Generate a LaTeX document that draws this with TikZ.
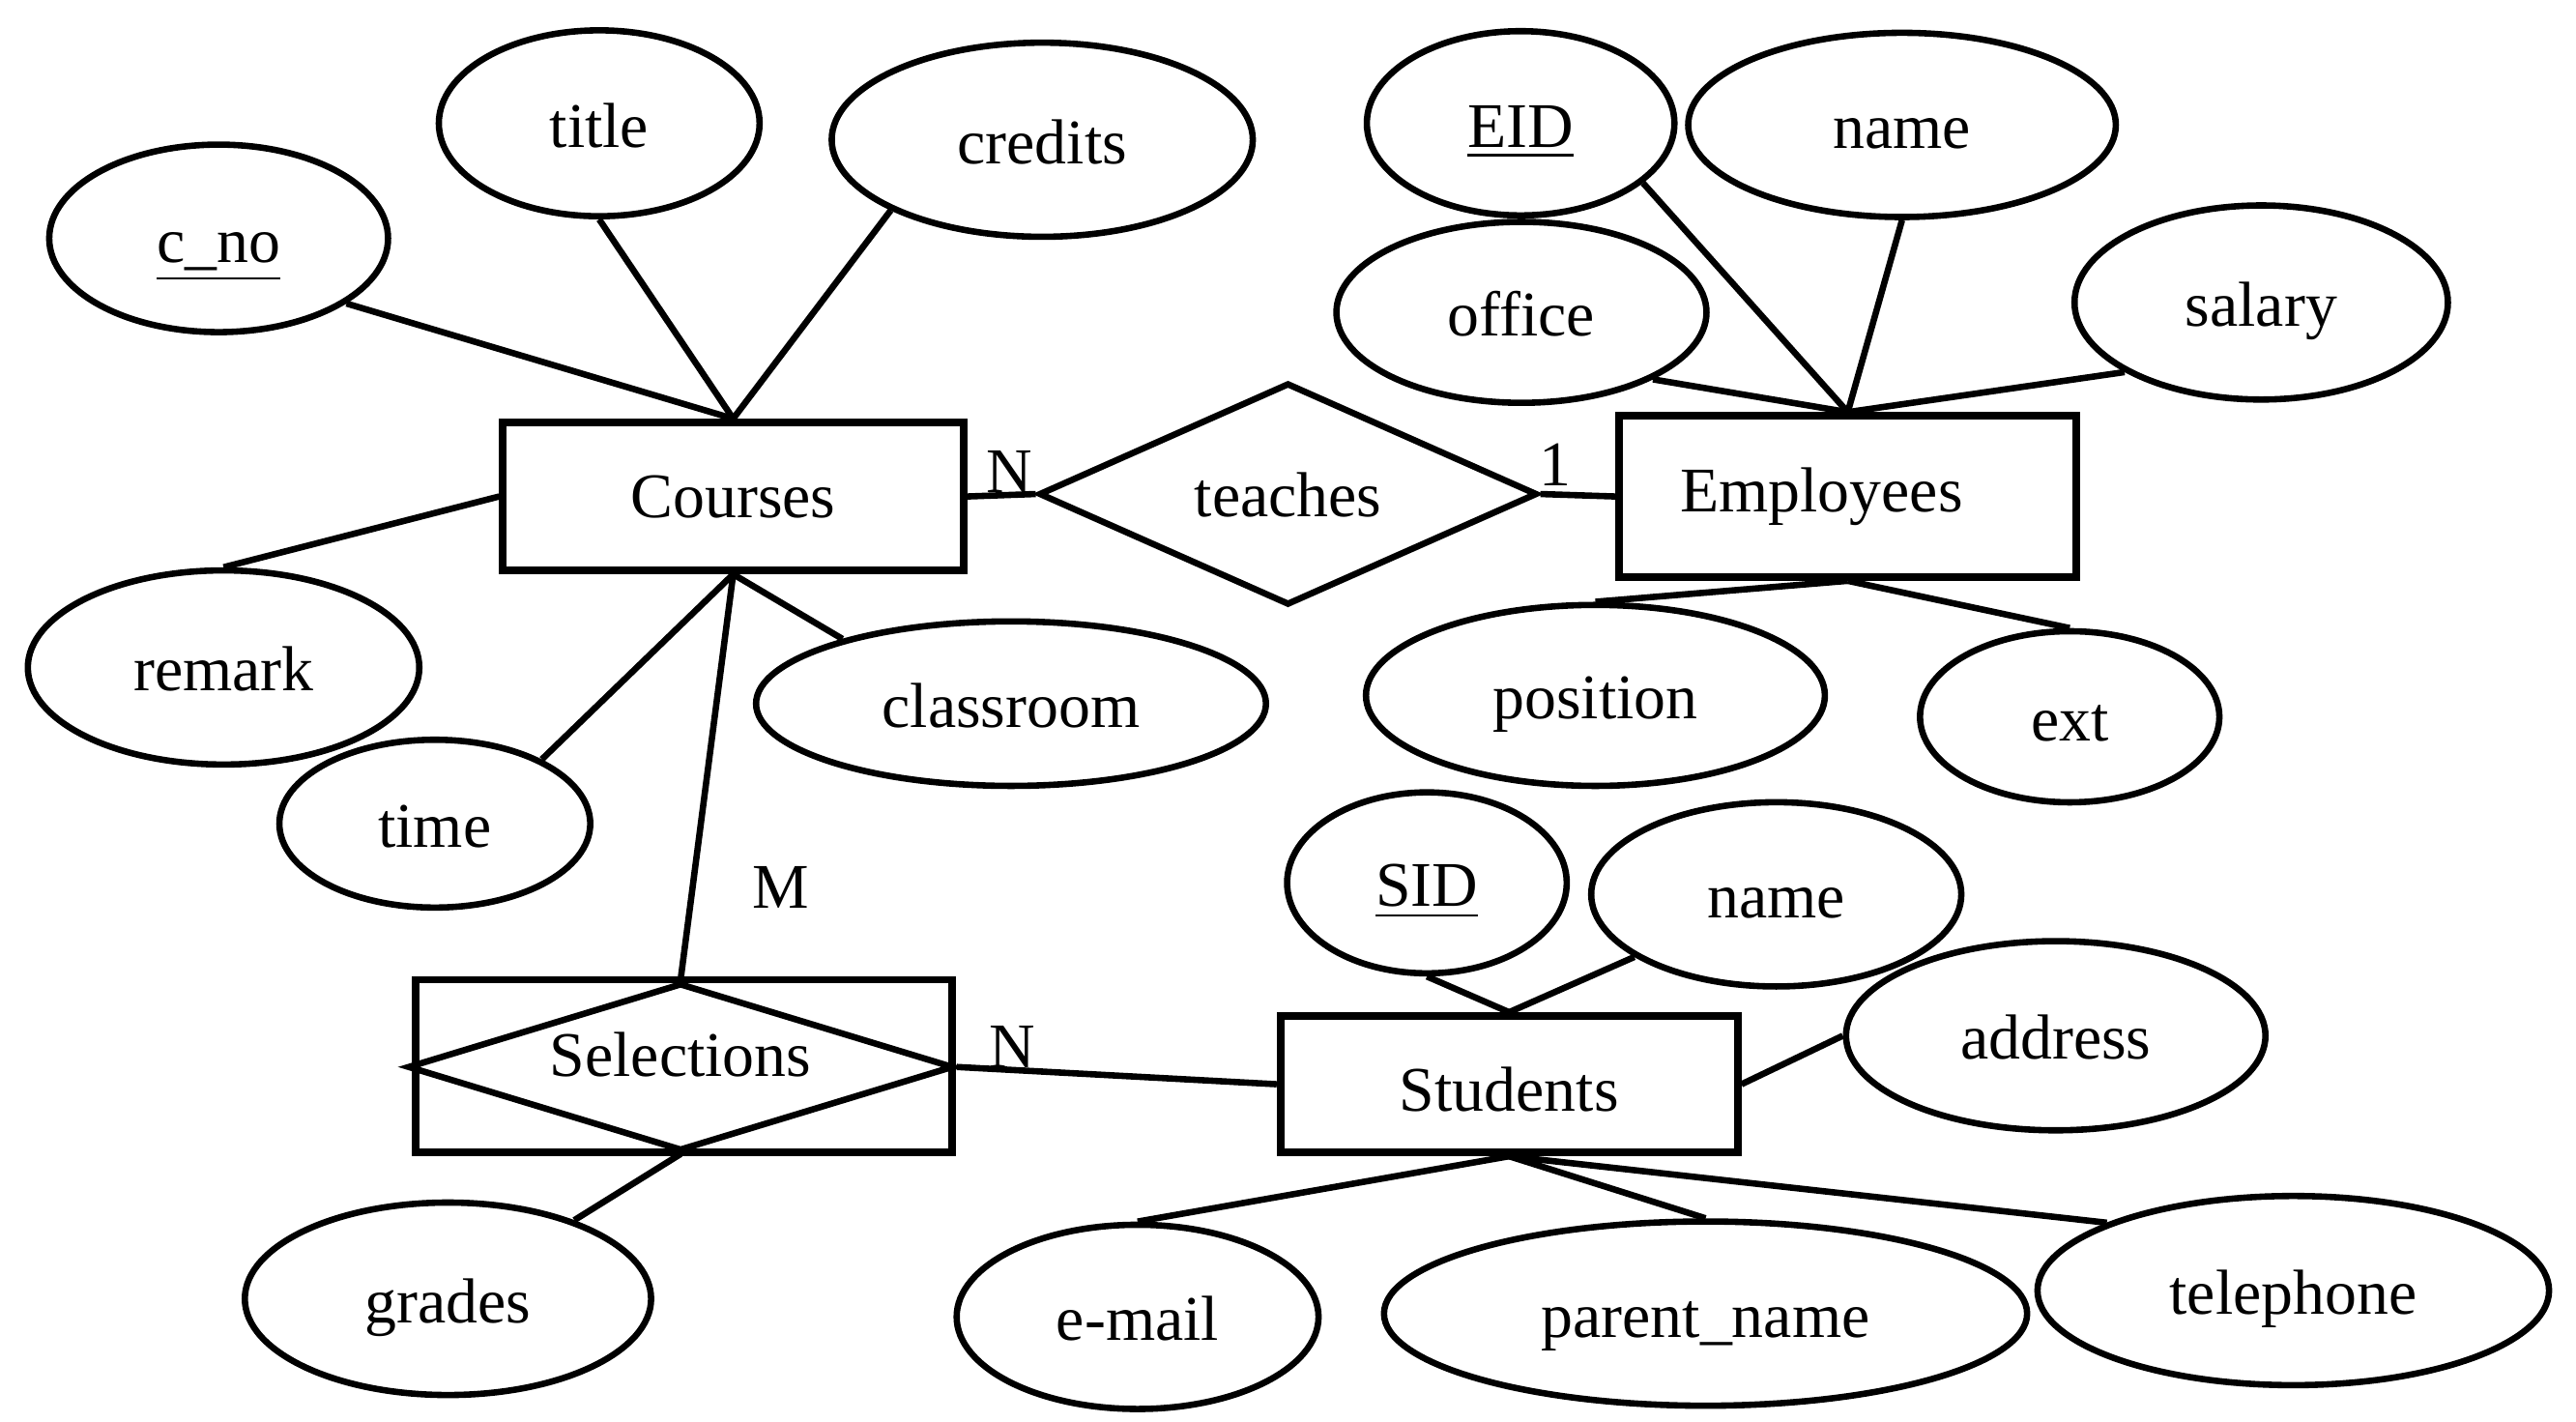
\documentclass[tikz,border=0pt]{standalone}
\usepackage{fontspec}
\setmainfont{Liberation Serif}
\usetikzlibrary{shapes.geometric}
\begin{document}
\begin{tikzpicture}[x=0.01cm,y=-0.01cm,line width=1.1pt,
  attr/.style={ellipse,draw,inner sep=0pt,text height=1em,text depth=0.18em},
  ent/.style={rectangle,draw,line width=1.3pt,inner sep=0pt},
  rel/.style={diamond,draw,inner sep=0pt},
  card/.style={inner sep=0pt},
  font=\fontsize{11}{13}\selectfont]
\useasboundingbox (0,0) rectangle (1567,864.4);
% entities and relationships
\node[ent,minimum width=2.80cm,minimum height=0.90cm] (courses) at (446,302) {Courses};
\node[rel,aspect=2.2,minimum width=3.03cm,minimum height=1.35cm,text height=0.9em,text depth=0.1em] (teaches) at (783.5,300.5) {teaches};
\node[ent,minimum width=2.78cm,minimum height=0.98cm] (emp) at (1124,302) {\hspace*{-0.32cm}Employees};
\node[ent,minimum width=3.26cm,minimum height=1.05cm] (selr) at (416,648.5) {};
\node[rel,aspect=3.25,minimum width=3.32cm,minimum height=1.02cm,text height=0.5em,text depth=0.19em] (seld) at (414,649) {Selections};
\node[ent,minimum width=2.78cm,minimum height=0.83cm,text height=1.1em,text depth=0.17em] (stud) at (918,659.5) {Students};
% attributes
\node[attr,minimum width=2.06cm,minimum height=1.14cm] (cno) at (133,145) {\underline{c\_no}};
\node[attr,minimum width=1.95cm,minimum height=1.13cm] (title) at (364.5,75) {title};
\node[attr,minimum width=2.56cm,minimum height=1.18cm] (credits) at (634,85) {credits};
\node[attr,minimum width=2.38cm,minimum height=1.18cm] (remark) at (136,406) {remark};
\node[attr,minimum width=1.89cm,minimum height=1.02cm] (time) at (264.5,501) {time};
\node[attr,minimum width=3.10cm,minimum height=1.00cm] (classroom) at (615,428) {classroom};
\node[attr,minimum width=1.87cm,minimum height=1.12cm] (eid) at (925,75) {\underline{EID}};
\node[attr,minimum width=2.60cm,minimum height=1.12cm] (ename) at (1157,76) {name};
\node[attr,minimum width=2.25cm,minimum height=1.10cm] (office) at (925.5,190) {office};
\node[attr,minimum width=2.27cm,minimum height=1.18cm] (salary) at (1375.5,184) {salary};
\node[attr,minimum width=2.79cm,minimum height=1.10cm] (position) at (970.5,423) {position};
\node[attr,minimum width=1.82cm,minimum height=1.04cm] (ext) at (1259,436) {ext};
\node[attr,minimum width=1.70cm,minimum height=1.10cm] (sid) at (868,537) {\underline{SID}};
\node[attr,minimum width=2.25cm,minimum height=1.12cm] (sname) at (1080.5,544) {name};
\node[attr,minimum width=2.55cm,minimum height=1.15cm] (address) at (1250.5,630) {address};
\node[attr,minimum width=2.47cm,minimum height=1.17cm] (grades) at (272.5,790) {grades};
\node[attr,minimum width=2.20cm,minimum height=1.12cm] (email) at (692,801) {e-mail};
\node[attr,minimum width=3.91cm,minimum height=1.12cm] (pname) at (1037.5,799) {parent\_name};
\node[attr,minimum width=3.11cm,minimum height=1.15cm] (phone) at (1395,785) {telephone};
% cardinalities
\node[card] (n1) at (614,287) {N};
\node[card] (one) at (946,283) {1};
\node[card] (m) at (475,540) {M};
\node[card] (n2) at (616,637) {N};
% connectors
\draw (cno.333) -- (courses.north);
\draw (title.south) -- (courses.north);
\draw (credits.205) -- (courses.north);
\draw (remark.north) -- (courses.west);
\draw (time.31) -- (courses.south);
\draw (classroom.159) -- (courses.south);
\draw (courses.south) -- (seld.north);
\draw (courses.east) -- (teaches.west);
\draw (teaches.east) -- (emp.west);
\draw (eid.334) -- (emp.north);
\draw (ename.south) -- (emp.north);
\draw (office.333) -- (emp.north);
\draw (salary.207) -- (emp.north);
\draw (position.north) -- (emp.south);
\draw (ext.north) -- (emp.south);
\draw (seld.east) -- (stud.west);
\draw (grades) -- (seld.south);
\draw (sid.south) -- (stud.north);
\draw (sname) -- (stud.north);
\draw (address.west) -- (stud.east);
\draw (email.north) -- (stud.south);
\draw (pname.north) -- (stud.south);
\draw (phone.160) -- (stud.south);
\end{tikzpicture}
\end{document}
